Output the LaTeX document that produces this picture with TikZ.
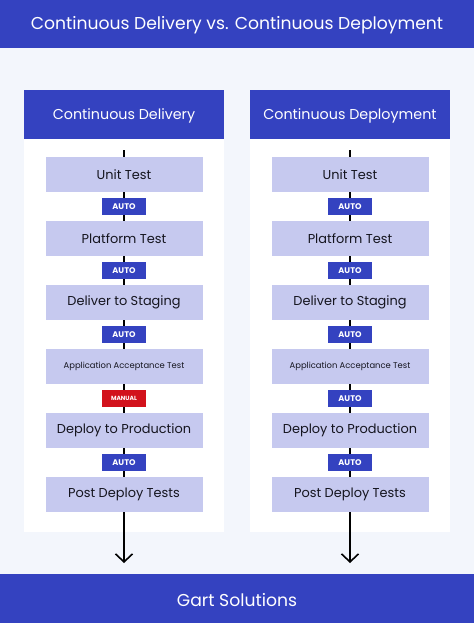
\documentclass[tikz,border=0pt]{standalone}
\usepackage{fontspec}
\setmainfont{Poppins}
\usetikzlibrary{positioning,arrows.meta}
\definecolor{gartblue}{HTML}{3442C0}
\definecolor{steplav}{HTML}{C6C9EF}
\definecolor{pagebg}{HTML}{F3F6FC}
\definecolor{manualred}{HTML}{D2121C}
\definecolor{stepink}{HTML}{15151F}
\tikzset{
  stepbox/.style = {fill=steplav, minimum width=157pt, minimum height=35pt, inner sep=0pt,
                    text=stepink, font=\fontsize{12.9}{15}\selectfont},
  smallstep/.style = {font=\fontsize{8.4}{10}\selectfont},
  badge/.style = {fill=gartblue, minimum width=44pt, minimum height=17pt, inner sep=0pt,
                  text=white, font=\bfseries\fontsize{8.2}{9}\selectfont},
  manualbadge/.style = {badge, fill=manualred, font=\bfseries\fontsize{6}{7}\selectfont},
  flow/.style = {line width=1.6pt, black},
  flowout/.style = {flow, -{Straight Barb[length=8pt,width=17pt,line width=1.6pt]}},
  bandtext/.style = {text=white, yshift=-1.5pt, font=\fontsize{17.2}{20}\selectfont},
  headtext/.style = {text=white, yshift=-1pt, font=\fontsize{14.3}{17}\selectfont}
}

\begin{document}
\begin{tikzpicture}[x=1pt,y=-1pt]
% page and bands
\fill[pagebg] (0,0) rectangle (474,623);
\useasboundingbox (0,0) rectangle (474,623);
\fill[gartblue] (0,0) rectangle (474,48);
\fill[gartblue] (0,574) rectangle (474,623);
\node[bandtext] (title) at (237,24) {Continuous Delivery vs. Continuous Deployment};
\node[bandtext] (footer) at (237,599) {Gart Solutions};

% panels
\fill[white] (24,139) rectangle (224,532);
\fill[white] (250,139) rectangle (450,532);
\fill[gartblue] (24,90) rectangle (224,139);
\fill[gartblue] (250,90) rectangle (450,139);
\node[headtext] (dlhead) at (124,114.5) {Continuous Delivery};
\node[headtext] (dphead) at (350,114.5) {Continuous Deployment};

% steps
\foreach \i/\txt in {1/Unit Test, 2/Platform Test, 3/Deliver to Staging,
                     5/Deploy to Production, 6/Post Deploy Tests} {
  \node[stepbox] (dl\i) at (124,110.5+64*\i) {\txt};
  \node[stepbox] (dp\i) at (350,110.5+64*\i) {\txt};
}
\node[stepbox, smallstep] (dl4) at (124,366.5) {Application Acceptance Test};
\node[stepbox, smallstep] (dp4) at (350,366.5) {Application Acceptance Test};

% connectors
\coordinate (dlin) at (124,150);
\coordinate (dpin) at (350,150);
\coordinate (dlout) at (124,563);
\coordinate (dpout) at (350,563);
\draw[flow] (dlin) -- (dl1);
\draw[flow] (dpin) -- (dp1);
\foreach \i/\j in {1/2, 2/3, 3/4, 5/6} {
  \draw[flow] (dl\i) -- (dl\j) node[badge, midway] (dlb\i) {AUTO};
}
\draw[flow] (dl4) -- (dl5) node[manualbadge, midway] (dlb4) {MANUAL};
\foreach \i/\j in {1/2, 2/3, 3/4, 4/5, 5/6} {
  \draw[flow] (dp\i) -- (dp\j) node[badge, midway] (dpb\i) {AUTO};
}
\draw[flowout] (dl6) -- (dlout);
\draw[flowout] (dp6) -- (dpout);
\end{tikzpicture}
\end{document}
